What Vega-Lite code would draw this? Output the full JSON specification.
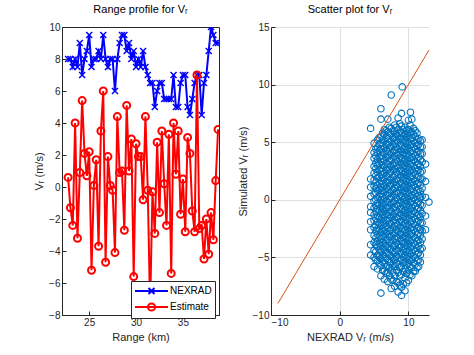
{
"$schema":"https://vega.github.io/schema/vega-lite/v6.json",
"padding":{"left":33,"top":3,"right":5,"bottom":5},
"spacing":52,
"bounds":"flush",
"datasets":{
"profile":[
{"r":22.75,"n":8,"e":0.6},{"r":23.0,"n":8,"e":-1.3},{"r":23.25,"n":7.5,"e":-2.4},{"r":23.5,"n":8,"e":4.0},{"r":23.75,"n":7.5,"e":-3.2},
{"r":24.0,"n":9,"e":0.9},{"r":24.25,"n":7,"e":5.4},{"r":24.5,"n":8,"e":2.1},{"r":24.75,"n":8.5,"e":0.7},{"r":25.0,"n":9.5,"e":2.2},
{"r":25.25,"n":7.5,"e":-5.2},{"r":25.5,"n":8,"e":0.1},{"r":25.75,"n":8,"e":1.7},{"r":26.0,"n":8.5,"e":-3.7},{"r":26.25,"n":8,"e":3.5},
{"r":26.5,"n":9.5,"e":6.0},{"r":26.75,"n":8,"e":-4.7},{"r":27.0,"n":7.5,"e":1.9},{"r":27.25,"n":8,"e":0.1},{"r":27.5,"n":8,"e":-0.2},
{"r":27.75,"n":6,"e":-4.1},{"r":28.0,"n":8,"e":4.4},{"r":28.25,"n":9,"e":0.9},{"r":28.5,"n":9.5,"e":1.0},{"r":28.75,"n":9.5,"e":-2.7},
{"r":29.0,"n":8.5,"e":5.1},{"r":29.25,"n":9,"e":1.0},{"r":29.5,"n":8,"e":3.0},{"r":29.75,"n":8.5,"e":-5.6},{"r":30.0,"n":7.5,"e":2.7},
{"r":30.25,"n":8,"e":1.9},{"r":30.5,"n":7.5,"e":1.9},{"r":30.75,"n":8.5,"e":-0.8},{"r":31.0,"n":7.5,"e":4.4},{"r":31.25,"n":7,"e":-0.2},
{"r":31.5,"n":6.5,"e":-7.6},{"r":31.75,"n":6.5,"e":-0.3},{"r":32.0,"n":5,"e":-2.9},{"r":32.25,"n":6,"e":2.8},{"r":32.5,"n":6.5,"e":-1.6},
{"r":32.75,"n":6.5,"e":3.5},{"r":33.0,"n":5.5,"e":0.2},{"r":33.25,"n":5.5,"e":-2.4},{"r":33.5,"n":5.5,"e":3.3},{"r":33.75,"n":5.5,"e":-5.4},
{"r":34.0,"n":7,"e":4.0},{"r":34.25,"n":5,"e":0.8},{"r":34.5,"n":5,"e":3.5},{"r":34.75,"n":6.5,"e":-1.7},{"r":35.0,"n":7,"e":0.5},
{"r":35.25,"n":7,"e":-2.8},{"r":35.5,"n":5,"e":3.1},{"r":35.75,"n":4.5,"e":2.1},{"r":36.0,"n":5.5,"e":-1.5},{"r":36.25,"n":6.5,"e":-2.8},
{"r":36.5,"n":7,"e":7.0},{"r":36.75,"n":7,"e":-2.6},{"r":37.0,"n":4.5,"e":-2.4},{"r":37.25,"n":6.5,"e":-4.5},{"r":37.5,"n":7,"e":-2.0},
{"r":37.75,"n":8.5,"e":-4.2},{"r":38.0,"n":10,"e":-1.6},{"r":38.25,"n":9.5,"e":-3.3},{"r":38.5,"n":9,"e":0.4},{"r":38.75,"n":9,"e":3.6}
],
"diag":[{"x":-9,"y":-9},{"x":13,"y":13}],
"scatter":[
{"x":4.5,"y":-4.8},{"x":4.5,"y":-3.9},{"x":4.5,"y":-2.6},{"x":4.5,"y":-1.9},{"x":4.5,"y":-1.1},{"x":4.5,"y":-0.6},{"x":4.5,"y":0.3},{"x":4.5,"y":1.1},{"x":4.5,"y":1.8},{"x":4.5,"y":6.2},
{"x":5,"y":-5.8},{"x":5,"y":-5.0},{"x":5,"y":-4.4},{"x":5,"y":-3.7},{"x":5,"y":-3.1},{"x":5,"y":-2.4},{"x":5,"y":-1.8},{"x":5,"y":-1.3},{"x":5,"y":-0.7},{"x":5,"y":-0.1},{"x":5,"y":0.5},{"x":5,"y":1.2},{"x":5,"y":1.7},{"x":5,"y":2.3},{"x":5,"y":2.9},{"x":5,"y":3.6},{"x":5,"y":4.1},{"x":5,"y":4.9},
{"x":5.5,"y":-6.0},{"x":5.5,"y":-5.3},{"x":5.5,"y":-4.8},{"x":5.5,"y":-4.1},{"x":5.5,"y":-3.6},{"x":5.5,"y":-3.0},{"x":5.5,"y":-2.5},{"x":5.5,"y":-1.9},{"x":5.5,"y":-1.4},{"x":5.5,"y":-0.8},{"x":5.5,"y":-0.3},{"x":5.5,"y":0.2},{"x":5.5,"y":0.8},{"x":5.5,"y":1.3},{"x":5.5,"y":1.9},{"x":5.5,"y":2.4},{"x":5.5,"y":3.0},{"x":5.5,"y":3.5},{"x":5.5,"y":4.1},{"x":5.5,"y":4.6},{"x":5.5,"y":5.2},
{"x":6,"y":-8.1},{"x":6,"y":-6.6},{"x":6,"y":-5.7},{"x":6,"y":-5.1},{"x":6,"y":-4.5},{"x":6,"y":-4.0},{"x":6,"y":-3.4},{"x":6,"y":-2.8},{"x":6,"y":-2.2},{"x":6,"y":-1.7},{"x":6,"y":-1.1},{"x":6,"y":-0.6},{"x":6,"y":0.0},{"x":6,"y":0.5},{"x":6,"y":1.1},{"x":6,"y":1.6},{"x":6,"y":2.2},{"x":6,"y":2.7},{"x":6,"y":3.3},{"x":6,"y":3.8},{"x":6,"y":4.4},{"x":6,"y":4.9},{"x":6,"y":5.5},{"x":6,"y":7.0},{"x":6,"y":7.9},
{"x":6.5,"y":-6.9},{"x":6.5,"y":-6.2},{"x":6.5,"y":-5.5},{"x":6.5,"y":-4.9},{"x":6.5,"y":-4.3},{"x":6.5,"y":-3.8},{"x":6.5,"y":-3.2},{"x":6.5,"y":-2.7},{"x":6.5,"y":-2.1},{"x":6.5,"y":-1.5},{"x":6.5,"y":-1.0},{"x":6.5,"y":-0.4},{"x":6.5,"y":0.1},{"x":6.5,"y":0.7},{"x":6.5,"y":1.2},{"x":6.5,"y":1.8},{"x":6.5,"y":2.3},{"x":6.5,"y":2.9},{"x":6.5,"y":3.4},{"x":6.5,"y":4.0},{"x":6.5,"y":4.5},{"x":6.5,"y":5.1},{"x":6.5,"y":5.7},{"x":6.5,"y":6.1},
{"x":7,"y":-7.1},{"x":7,"y":-6.3},{"x":7,"y":-5.7},{"x":7,"y":-5.2},{"x":7,"y":-4.6},{"x":7,"y":-4.1},{"x":7,"y":-3.5},{"x":7,"y":-3.0},{"x":7,"y":-2.4},{"x":7,"y":-1.8},{"x":7,"y":-1.3},{"x":7,"y":-0.7},{"x":7,"y":-0.2},{"x":7,"y":0.4},{"x":7,"y":0.9},{"x":7,"y":1.5},{"x":7,"y":2.0},{"x":7,"y":2.6},{"x":7,"y":3.1},{"x":7,"y":3.7},{"x":7,"y":4.2},{"x":7,"y":4.8},{"x":7,"y":5.3},{"x":7,"y":5.9},{"x":7,"y":7.0},
{"x":7.5,"y":-7.7},{"x":7.5,"y":-6.9},{"x":7.5,"y":-6.0},{"x":7.5,"y":-5.4},{"x":7.5,"y":-4.9},{"x":7.5,"y":-4.3},{"x":7.5,"y":-3.7},{"x":7.5,"y":-3.2},{"x":7.5,"y":-2.6},{"x":7.5,"y":-2.1},{"x":7.5,"y":-1.5},{"x":7.5,"y":-1.0},{"x":7.5,"y":-0.4},{"x":7.5,"y":0.2},{"x":7.5,"y":0.7},{"x":7.5,"y":1.3},{"x":7.5,"y":1.8},{"x":7.5,"y":2.4},{"x":7.5,"y":2.9},{"x":7.5,"y":3.5},{"x":7.5,"y":4.0},{"x":7.5,"y":4.6},{"x":7.5,"y":5.1},{"x":7.5,"y":5.7},{"x":7.5,"y":6.2},{"x":7.5,"y":9.1},
{"x":8,"y":-7.5},{"x":8,"y":-6.6},{"x":8,"y":-5.8},{"x":8,"y":-5.2},{"x":8,"y":-4.6},{"x":8,"y":-4.0},{"x":8,"y":-3.4},{"x":8,"y":-2.9},{"x":8,"y":-2.3},{"x":8,"y":-1.7},{"x":8,"y":-1.2},{"x":8,"y":-0.6},{"x":8,"y":-0.1},{"x":8,"y":0.5},{"x":8,"y":1.0},{"x":8,"y":1.6},{"x":8,"y":2.1},{"x":8,"y":2.7},{"x":8,"y":3.2},{"x":8,"y":3.8},{"x":8,"y":4.3},{"x":8,"y":4.9},{"x":8,"y":5.4},{"x":8,"y":6.0},{"x":8,"y":6.5},
{"x":8.5,"y":-8.0},{"x":8.5,"y":-7.2},{"x":8.5,"y":-6.3},{"x":8.5,"y":-5.6},{"x":8.5,"y":-5.0},{"x":8.5,"y":-4.4},{"x":8.5,"y":-3.9},{"x":8.5,"y":-3.3},{"x":8.5,"y":-2.7},{"x":8.5,"y":-2.2},{"x":8.5,"y":-1.6},{"x":8.5,"y":-1.1},{"x":8.5,"y":-0.5},{"x":8.5,"y":0.0},{"x":8.5,"y":0.6},{"x":8.5,"y":1.1},{"x":8.5,"y":1.7},{"x":8.5,"y":2.2},{"x":8.5,"y":2.8},{"x":8.5,"y":3.3},{"x":8.5,"y":3.9},{"x":8.5,"y":4.4},{"x":8.5,"y":5.0},{"x":8.5,"y":5.5},{"x":8.5,"y":6.1},{"x":8.5,"y":7.1},
{"x":9,"y":-8.3},{"x":9,"y":-7.6},{"x":9,"y":-6.5},{"x":9,"y":-5.8},{"x":9,"y":-5.2},{"x":9,"y":-4.7},{"x":9,"y":-4.1},{"x":9,"y":-3.6},{"x":9,"y":-3.0},{"x":9,"y":-2.5},{"x":9,"y":-1.9},{"x":9,"y":-1.3},{"x":9,"y":-0.8},{"x":9,"y":-0.2},{"x":9,"y":0.3},{"x":9,"y":0.9},{"x":9,"y":1.4},{"x":9,"y":2.0},{"x":9,"y":2.5},{"x":9,"y":3.1},{"x":9,"y":3.6},{"x":9,"y":4.2},{"x":9,"y":4.7},{"x":9,"y":5.3},{"x":9,"y":5.8},{"x":9,"y":6.4},{"x":9,"y":7.5},{"x":9.1,"y":9.8},
{"x":9.5,"y":-7.9},{"x":9.5,"y":-6.8},{"x":9.5,"y":-6.0},{"x":9.5,"y":-5.4},{"x":9.5,"y":-4.8},{"x":9.5,"y":-4.2},{"x":9.5,"y":-3.7},{"x":9.5,"y":-3.1},{"x":9.5,"y":-2.6},{"x":9.5,"y":-2.0},{"x":9.5,"y":-1.4},{"x":9.5,"y":-0.9},{"x":9.5,"y":-0.3},{"x":9.5,"y":0.2},{"x":9.5,"y":0.8},{"x":9.5,"y":1.3},{"x":9.5,"y":1.9},{"x":9.5,"y":2.4},{"x":9.5,"y":3.0},{"x":9.5,"y":3.5},{"x":9.5,"y":4.1},{"x":9.5,"y":4.6},{"x":9.5,"y":5.2},{"x":9.5,"y":5.7},{"x":9.5,"y":6.3},
{"x":10,"y":-7.0},{"x":10,"y":-6.1},{"x":10,"y":-5.5},{"x":10,"y":-4.9},{"x":10,"y":-4.4},{"x":10,"y":-3.8},{"x":10,"y":-3.3},{"x":10,"y":-2.7},{"x":10,"y":-2.2},{"x":10,"y":-1.6},{"x":10,"y":-1.0},{"x":10,"y":-0.5},{"x":10,"y":0.1},{"x":10,"y":0.6},{"x":10,"y":1.2},{"x":10,"y":1.7},{"x":10,"y":2.3},{"x":10,"y":2.8},{"x":10,"y":3.4},{"x":10,"y":3.9},{"x":10,"y":4.5},{"x":10,"y":5.0},{"x":10,"y":5.6},{"x":10,"y":6.1},{"x":10,"y":6.9},
{"x":10.5,"y":-6.6},{"x":10.5,"y":-5.9},{"x":10.5,"y":-5.2},{"x":10.5,"y":-4.6},{"x":10.5,"y":-4.0},{"x":10.5,"y":-3.5},{"x":10.5,"y":-2.9},{"x":10.5,"y":-2.4},{"x":10.5,"y":-1.8},{"x":10.5,"y":-1.2},{"x":10.5,"y":-0.7},{"x":10.5,"y":-0.1},{"x":10.5,"y":0.4},{"x":10.5,"y":1.0},{"x":10.5,"y":1.5},{"x":10.5,"y":2.1},{"x":10.5,"y":2.6},{"x":10.5,"y":3.2},{"x":10.5,"y":3.7},{"x":10.5,"y":4.3},{"x":10.5,"y":4.8},{"x":10.5,"y":5.4},{"x":10.5,"y":5.9},{"x":10.5,"y":7.0},{"x":10.3,"y":7.6},
{"x":11,"y":-6.2},{"x":11,"y":-5.6},{"x":11,"y":-5.0},{"x":11,"y":-4.5},{"x":11,"y":-3.9},{"x":11,"y":-3.3},{"x":11,"y":-2.8},{"x":11,"y":-2.2},{"x":11,"y":-1.7},{"x":11,"y":-1.1},{"x":11,"y":-0.6},{"x":11,"y":0.0},{"x":11,"y":0.5},{"x":11,"y":1.1},{"x":11,"y":1.6},{"x":11,"y":2.2},{"x":11,"y":2.7},{"x":11,"y":3.3},{"x":11,"y":3.8},{"x":11,"y":4.4},{"x":11,"y":4.9},{"x":11,"y":5.5},{"x":11,"y":6.0},
{"x":11.5,"y":-5.8},{"x":11.5,"y":-5.2},{"x":11.5,"y":-4.6},{"x":11.5,"y":-4.0},{"x":11.5,"y":-3.5},{"x":11.5,"y":-2.9},{"x":11.5,"y":-2.4},{"x":11.5,"y":-1.8},{"x":11.5,"y":-1.3},{"x":11.5,"y":-0.7},{"x":11.5,"y":-0.2},{"x":11.5,"y":0.4},{"x":11.5,"y":0.9},{"x":11.5,"y":1.5},{"x":11.5,"y":2.0},{"x":11.5,"y":2.6},{"x":11.5,"y":3.1},{"x":11.5,"y":3.7},{"x":11.5,"y":4.2},{"x":11.5,"y":4.8},{"x":11.5,"y":5.3},
{"x":12,"y":-4.2},{"x":12,"y":-3.4},{"x":12,"y":-2.7},{"x":12,"y":-2.0},{"x":12,"y":-1.2},{"x":12,"y":-0.5},{"x":12,"y":0.3},{"x":12,"y":1.0},{"x":12,"y":1.8},{"x":12,"y":2.5},{"x":12,"y":3.3},{"x":12,"y":4.0},{"x":12,"y":4.6},{"x":12,"y":5.2},
{"x":12.5,"y":-2.6},{"x":12.5,"y":-1.4},{"x":12.5,"y":0.2},{"x":12.5,"y":1.6},{"x":12.5,"y":3.1},{"x":13,"y":-0.2},
{"x":5.25,"y":-5.2},{"x":5.25,"y":-4.5},{"x":5.25,"y":-3.9},{"x":5.25,"y":-3.3},{"x":5.25,"y":-2.7},{"x":5.25,"y":-2.2},{"x":5.25,"y":-1.6},{"x":5.25,"y":-1.0},{"x":5.25,"y":-0.5},{"x":5.25,"y":0.0},{"x":5.25,"y":0.6},{"x":5.25,"y":1.0},{"x":5.25,"y":1.5},{"x":5.25,"y":2.1},{"x":5.25,"y":2.7},{"x":5.25,"y":3.2},{"x":5.25,"y":3.8},{"x":5.25,"y":4.4},
{"x":5.75,"y":-5.5},{"x":5.75,"y":-4.9},{"x":5.75,"y":-4.3},{"x":5.75,"y":-3.8},{"x":5.75,"y":-3.2},{"x":5.75,"y":-2.6},{"x":5.75,"y":-2.0},{"x":5.75,"y":-1.5},{"x":5.75,"y":-0.9},{"x":5.75,"y":-0.4},{"x":5.75,"y":0.3},{"x":5.75,"y":0.9},{"x":5.75,"y":1.4},{"x":5.75,"y":2.0},{"x":5.75,"y":2.6},{"x":5.75,"y":3.1},{"x":5.75,"y":3.7},{"x":5.75,"y":4.3},{"x":5.75,"y":4.8},{"x":5.75,"y":5.4},
{"x":6.25,"y":-6.1},{"x":6.25,"y":-5.4},{"x":6.25,"y":-4.8},{"x":6.25,"y":-4.2},{"x":6.25,"y":-3.7},{"x":6.25,"y":-3.1},{"x":6.25,"y":-2.5},{"x":6.25,"y":-1.9},{"x":6.25,"y":-1.3},{"x":6.25,"y":-0.8},{"x":6.25,"y":-0.3},{"x":6.25,"y":0.3},{"x":6.25,"y":0.8},{"x":6.25,"y":1.4},{"x":6.25,"y":1.9},{"x":6.25,"y":2.5},{"x":6.25,"y":3.0},{"x":6.25,"y":3.6},{"x":6.25,"y":4.1},{"x":6.25,"y":4.7},{"x":6.25,"y":5.2},{"x":6.25,"y":5.8},
{"x":6.75,"y":-6.4},{"x":6.75,"y":-5.8},{"x":6.75,"y":-5.1},{"x":6.75,"y":-4.6},{"x":6.75,"y":-4.0},{"x":6.75,"y":-3.5},{"x":6.75,"y":-2.9},{"x":6.75,"y":-2.3},{"x":6.75,"y":-1.8},{"x":6.75,"y":-1.2},{"x":6.75,"y":-0.7},{"x":6.75,"y":-0.1},{"x":6.75,"y":0.4},{"x":6.75,"y":1.0},{"x":6.75,"y":1.5},{"x":6.75,"y":2.1},{"x":6.75,"y":2.6},{"x":6.75,"y":3.2},{"x":6.75,"y":3.7},{"x":6.75,"y":4.3},{"x":6.75,"y":4.8},{"x":6.75,"y":5.4},{"x":6.75,"y":6.0},
{"x":7.25,"y":-6.6},{"x":7.25,"y":-5.9},{"x":7.25,"y":-5.4},{"x":7.25,"y":-4.8},{"x":7.25,"y":-4.3},{"x":7.25,"y":-3.7},{"x":7.25,"y":-3.2},{"x":7.25,"y":-2.7},{"x":7.25,"y":-2.1},{"x":7.25,"y":-1.6},{"x":7.25,"y":-1.0},{"x":7.25,"y":-0.5},{"x":7.25,"y":0.1},{"x":7.25,"y":0.6},{"x":7.25,"y":1.2},{"x":7.25,"y":1.7},{"x":7.25,"y":2.3},{"x":7.25,"y":2.8},{"x":7.25,"y":3.4},{"x":7.25,"y":3.9},{"x":7.25,"y":4.5},{"x":7.25,"y":5.0},{"x":7.25,"y":5.6},{"x":7.25,"y":6.3},
{"x":7.75,"y":-7.0},{"x":7.75,"y":-6.3},{"x":7.75,"y":-5.7},{"x":7.75,"y":-5.1},{"x":7.75,"y":-4.5},{"x":7.75,"y":-4.0},{"x":7.75,"y":-3.5},{"x":7.75,"y":-2.9},{"x":7.75,"y":-2.4},{"x":7.75,"y":-1.8},{"x":7.75,"y":-1.3},{"x":7.75,"y":-0.7},{"x":7.75,"y":-0.2},{"x":7.75,"y":0.4},{"x":7.75,"y":0.9},{"x":7.75,"y":1.5},{"x":7.75,"y":2.0},{"x":7.75,"y":2.6},{"x":7.75,"y":3.1},{"x":7.75,"y":3.7},{"x":7.75,"y":4.2},{"x":7.75,"y":4.8},{"x":7.75,"y":5.4},{"x":7.75,"y":6.0},
{"x":8.25,"y":-7.1},{"x":8.25,"y":-6.1},{"x":8.25,"y":-5.5},{"x":8.25,"y":-4.9},{"x":8.25,"y":-4.3},{"x":8.25,"y":-3.7},{"x":8.25,"y":-3.2},{"x":8.25,"y":-2.6},{"x":8.25,"y":-2.0},{"x":8.25,"y":-1.5},{"x":8.25,"y":-0.9},{"x":8.25,"y":-0.4},{"x":8.25,"y":0.2},{"x":8.25,"y":0.7},{"x":8.25,"y":1.3},{"x":8.25,"y":1.8},{"x":8.25,"y":2.4},{"x":8.25,"y":3.0},{"x":8.25,"y":3.5},{"x":8.25,"y":4.1},{"x":8.25,"y":4.6},{"x":8.25,"y":5.2},{"x":8.25,"y":5.7},{"x":8.25,"y":6.3},
{"x":8.75,"y":-7.4},{"x":8.75,"y":-6.6},{"x":8.75,"y":-5.9},{"x":8.75,"y":-5.3},{"x":8.75,"y":-4.7},{"x":8.75,"y":-4.1},{"x":8.75,"y":-3.6},{"x":8.75,"y":-3.0},{"x":8.75,"y":-2.4},{"x":8.75,"y":-1.9},{"x":8.75,"y":-1.4},{"x":8.75,"y":-0.8},{"x":8.75,"y":-0.3},{"x":8.75,"y":0.3},{"x":8.75,"y":0.8},{"x":8.75,"y":1.4},{"x":8.75,"y":1.9},{"x":8.75,"y":2.5},{"x":8.75,"y":3.0},{"x":8.75,"y":3.6},{"x":8.75,"y":4.1},{"x":8.75,"y":4.7},{"x":8.75,"y":5.3},{"x":8.75,"y":5.8},{"x":8.75,"y":6.6},
{"x":9.25,"y":-7.3},{"x":9.25,"y":-6.2},{"x":9.25,"y":-5.5},{"x":9.25,"y":-5.0},{"x":9.25,"y":-4.4},{"x":9.25,"y":-3.8},{"x":9.25,"y":-3.3},{"x":9.25,"y":-2.8},{"x":9.25,"y":-2.2},{"x":9.25,"y":-1.6},{"x":9.25,"y":-1.1},{"x":9.25,"y":-0.5},{"x":9.25,"y":0.0},{"x":9.25,"y":0.6},{"x":9.25,"y":1.1},{"x":9.25,"y":1.7},{"x":9.25,"y":2.2},{"x":9.25,"y":2.8},{"x":9.25,"y":3.3},{"x":9.25,"y":3.9},{"x":9.25,"y":4.4},{"x":9.25,"y":5.0},{"x":9.25,"y":5.5},{"x":9.25,"y":6.1},
{"x":9.75,"y":-7.2},{"x":9.75,"y":-6.4},{"x":9.75,"y":-5.7},{"x":9.75,"y":-5.1},{"x":9.75,"y":-4.5},{"x":9.75,"y":-4.0},{"x":9.75,"y":-3.4},{"x":9.75,"y":-2.9},{"x":9.75,"y":-2.3},{"x":9.75,"y":-1.7},{"x":9.75,"y":-1.2},{"x":9.75,"y":-0.6},{"x":9.75,"y":-0.1},{"x":9.75,"y":0.5},{"x":9.75,"y":1.0},{"x":9.75,"y":1.6},{"x":9.75,"y":2.1},{"x":9.75,"y":2.7},{"x":9.75,"y":3.2},{"x":9.75,"y":3.8},{"x":9.75,"y":4.3},{"x":9.75,"y":4.9},{"x":9.75,"y":5.4},{"x":9.75,"y":6.0},
{"x":10.25,"y":-6.5},{"x":10.25,"y":-5.8},{"x":10.25,"y":-5.2},{"x":10.25,"y":-4.7},{"x":10.25,"y":-4.1},{"x":10.25,"y":-3.6},{"x":10.25,"y":-3.0},{"x":10.25,"y":-2.5},{"x":10.25,"y":-1.9},{"x":10.25,"y":-1.3},{"x":10.25,"y":-0.8},{"x":10.25,"y":-0.2},{"x":10.25,"y":0.3},{"x":10.25,"y":0.9},{"x":10.25,"y":1.4},{"x":10.25,"y":2.0},{"x":10.25,"y":2.5},{"x":10.25,"y":3.1},{"x":10.25,"y":3.6},{"x":10.25,"y":4.2},{"x":10.25,"y":4.7},{"x":10.25,"y":5.3},{"x":10.25,"y":5.8},{"x":10.25,"y":6.5},
{"x":10.75,"y":-6.2},{"x":10.75,"y":-5.5},{"x":10.75,"y":-4.9},{"x":10.75,"y":-4.3},{"x":10.75,"y":-3.8},{"x":10.75,"y":-3.2},{"x":10.75,"y":-2.6},{"x":10.75,"y":-2.1},{"x":10.75,"y":-1.5},{"x":10.75,"y":-1.0},{"x":10.75,"y":-0.4},{"x":10.75,"y":0.2},{"x":10.75,"y":0.7},{"x":10.75,"y":1.3},{"x":10.75,"y":1.8},{"x":10.75,"y":2.4},{"x":10.75,"y":2.9},{"x":10.75,"y":3.5},{"x":10.75,"y":4.0},{"x":10.75,"y":4.6},{"x":10.75,"y":5.1},{"x":10.75,"y":5.7},{"x":10.75,"y":6.2},
{"x":11.25,"y":-5.9},{"x":11.25,"y":-5.3},{"x":11.25,"y":-4.7},{"x":11.25,"y":-4.2},{"x":11.25,"y":-3.6},{"x":11.25,"y":-3.0},{"x":11.25,"y":-2.5},{"x":11.25,"y":-1.9},{"x":11.25,"y":-1.4},{"x":11.25,"y":-0.8},{"x":11.25,"y":-0.3},{"x":11.25,"y":0.3},{"x":11.25,"y":0.8},{"x":11.25,"y":1.4},{"x":11.25,"y":1.9},{"x":11.25,"y":2.5},{"x":11.25,"y":3.0},{"x":11.25,"y":3.6},{"x":11.25,"y":4.1},{"x":11.25,"y":4.7},{"x":11.25,"y":5.2},{"x":11.25,"y":5.8},
{"x":11.75,"y":-5.4},{"x":11.75,"y":-4.8},{"x":11.75,"y":-4.3},{"x":11.75,"y":-3.7},{"x":11.75,"y":-3.1},{"x":11.75,"y":-2.6},{"x":11.75,"y":-2.0},{"x":11.75,"y":-1.5},{"x":11.75,"y":-0.9},{"x":11.75,"y":-0.4},{"x":11.75,"y":0.2},{"x":11.75,"y":0.7},{"x":11.75,"y":1.3},{"x":11.75,"y":1.8},{"x":11.75,"y":2.4},{"x":11.75,"y":2.9},{"x":11.75,"y":3.5},{"x":11.75,"y":4.0},{"x":11.75,"y":4.6},{"x":11.75,"y":5.1}
]
},
"hconcat":[
{
"width":157,"height":288,
"title":{"text":"Range profile for Vᵣ"},
"data":{"name":"profile"},
"view":{"stroke":"#262626","strokeWidth":1},
"encoding":{
"x":{"field":"r","type":"quantitative","scale":{"domain":[22.1,38.85],"nice":false,"zero":false},"axis":{"title":"Range (km)","values":[25,30,35]}}
},
"layer":[
{"mark":{"type":"line","color":"#0000FF","strokeWidth":2,"clip":true},
 "encoding":{"y":{"field":"n","type":"quantitative","scale":{"domain":[-8,10],"nice":false},"axis":{"title":"Vᵣ (m/s)","values":[-8,-6,-4,-2,0,2,4,6,8,10]}}}},
{"mark":{"type":"point","shape":"M-1,-1L1,1M-1,1L1,-1","color":"#0000FF","strokeWidth":1.5,"size":36,"filled":false,"opacity":1,"clip":true},
 "encoding":{"y":{"field":"n","type":"quantitative","scale":{"domain":[-8,10],"nice":false},"axis":{"title":"Vᵣ (m/s)","values":[-8,-6,-4,-2,0,2,4,6,8,10]}}}},
{"mark":{"type":"line","color":"#FF0000","strokeWidth":2,"clip":true},
 "encoding":{"y":{"field":"e","type":"quantitative","scale":{"domain":[-8,10],"nice":false},"axis":{"title":"Vᵣ (m/s)","values":[-8,-6,-4,-2,0,2,4,6,8,10]}}}},
{"mark":{"type":"point","shape":"circle","color":"#FF0000","strokeWidth":2,"size":49,"filled":false,"opacity":1,"clip":true},
 "encoding":{"y":{"field":"e","type":"quantitative","scale":{"domain":[-8,10],"nice":false},"axis":{"title":"Vᵣ (m/s)","values":[-8,-6,-4,-2,0,2,4,6,8,10]}}}},
{"transform":[{"fold":["n","e"],"as":["s","val"]},{"filter":"datum.r < 0"}],
 "mark":{"type":"point","filled":false,"opacity":1,"strokeWidth":2,"size":144},
 "encoding":{
  "y":{"field":"val","type":"quantitative","scale":{"domain":[-8,10],"nice":false},"axis":{"title":"Vᵣ (m/s)","values":[-8,-6,-4,-2,0,2,4,6,8,10]}},
  "color":{"field":"s","type":"nominal","scale":{"domain":["n","e"],"range":["#0000FF","#FF0000"]},
   "legend":{"title":null,"orient":"none","legendX":69,"legendY":254,"labelExpr":"datum.value == 'n' ? 'NEXRAD' : 'Estimate'"}},
  "shape":{"field":"s","type":"nominal","scale":{"domain":["n","e"],"range":["M-1,0L4.5,0M1.25,-0.5L2.25,0.5M1.25,0.5L2.25,-0.5","M-1,0L4.5,0M2.35,0A0.6,0.6,0,1,1,1.15,0A0.6,0.6,0,1,1,2.35,0"]},
   "legend":{"title":null,"orient":"none","legendX":69,"legendY":254,"labelExpr":"datum.value == 'n' ? 'NEXRAD' : 'Estimate'"}}
 }}
]
},
{
"width":158,"height":288,
"title":{"text":"Scatter plot for Vᵣ"},
"view":{"stroke":null},
"layer":[
{"data":{"name":"scatter"},
 "mark":{"type":"point","shape":"circle","filled":false,"color":"#0072BD","strokeWidth":1.1,"size":42,"opacity":1},
 "encoding":{
  "x":{"field":"x","type":"quantitative","scale":{"domain":[-10,13],"nice":false,"zero":false},"axis":{"title":"NEXRAD Vᵣ (m/s)","values":[-10,-5,0,5,10],"grid":true}},
  "y":{"field":"y","type":"quantitative","scale":{"domain":[-10,15],"nice":false,"zero":false},"axis":{"title":"Simulated Vᵣ (m/s)","values":[-10,-5,0,5,10,15],"grid":true}}
 }},
{"data":{"name":"diag"},
 "mark":{"type":"line","color":"#D95319","strokeWidth":1},
 "encoding":{
  "x":{"field":"x","type":"quantitative","scale":{"domain":[-10,13],"nice":false,"zero":false}},
  "y":{"field":"y","type":"quantitative","scale":{"domain":[-10,15],"nice":false,"zero":false}}
 }}
]
}
],
"config":{
"font":"Liberation Sans",
"view":{"stroke":null},
"axis":{"domainColor":"#262626","tickColor":"#262626","labelColor":"#262626","titleColor":"#262626","labelFontSize":10,"titleFontSize":11,"titleFontWeight":"normal","tickSize":-4,"labelPadding":6,"gridColor":"#DFDFDF","grid":false,"titlePadding":4,"labelFont":"Liberation Sans","titleFont":"Liberation Sans"},
"title":{"fontSize":11,"fontWeight":"normal","color":"#000000","offset":7,"font":"Liberation Sans"},
"legend":{"fillColor":"#FFFFFF","strokeColor":"#262626","padding":3,"rowPadding":1,"labelFontSize":10,"labelColor":"#000000","symbolSize":144,"symbolStrokeWidth":2,"labelOffset":22,"labelFont":"Liberation Sans"}
}
}
